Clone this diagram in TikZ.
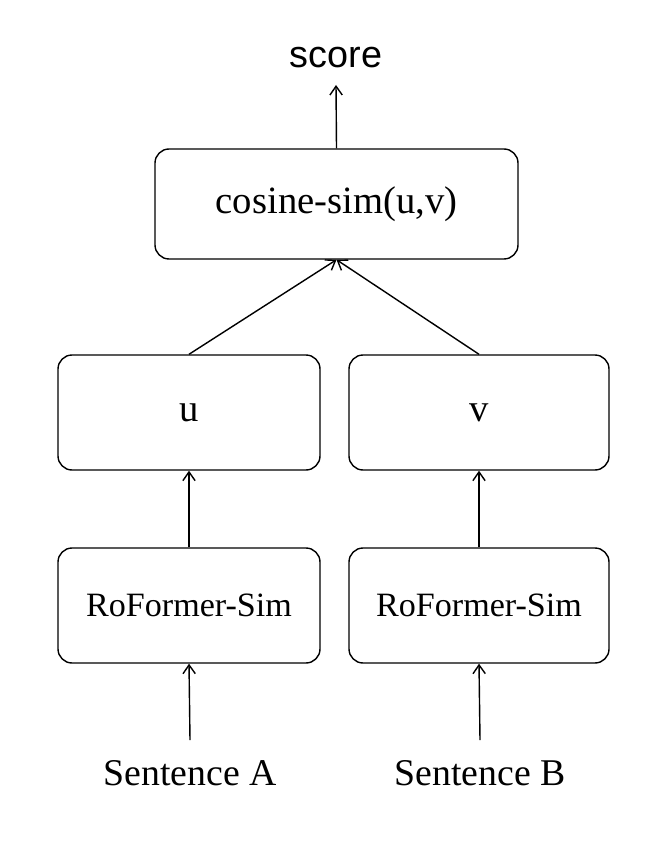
\documentclass[tikz,border=0pt]{standalone}
\usepackage{fontspec}
\setmainfont{Liberation Serif}
\newfontfamily\sansf{Liberation Sans}
\usetikzlibrary{arrows.meta}
\begin{document}
\begin{tikzpicture}[x=0.02cm,y=-0.02cm,
  box/.style={draw,rounded corners=8pt,line width=0.8pt,anchor=center,inner sep=0pt},
  arr/.style={-{Straight Barb[length=5pt,width=7pt]},line width=0.8pt}]
\useasboundingbox (0,0) rectangle (670,844);
\node[box,minimum width=363*0.02cm,minimum height=110*0.02cm,font=\fontsize{22}{26}\selectfont] (cos) at (336.5,204) {cosine-sim(u,v)};
\node[box,minimum width=262*0.02cm,minimum height=115*0.02cm,font=\fontsize{22}{26}\selectfont] (u) at (189,412.5) {u};
\node[box,minimum width=260*0.02cm,minimum height=115*0.02cm,font=\fontsize{22}{26}\selectfont] (v) at (479,412.5) {v};
\node[box,minimum width=262*0.02cm,minimum height=115*0.02cm,font=\fontsize{19.4}{23}\selectfont] (ra) at (189,605.5) {RoFormer-Sim};
\node[box,minimum width=260*0.02cm,minimum height=115*0.02cm,font=\fontsize{19.4}{23}\selectfont] (rb) at (479,605.5) {RoFormer-Sim};
\node[font=\fontsize{21.5}{25}\selectfont] (sa) at (190,773) {Sentence A};
\node[font=\fontsize{21.5}{25}\selectfont] (sb) at (480,773) {Sentence B};
\node[font=\sansf\fontsize{21.5}{25}\selectfont] (sc) at (336,58) {score};
\draw[arr] (cos.north) -- (336,85);
\draw[arr] (u.north) -- (cos.south);
\draw[arr] (v.north) -- (cos.south);
\draw[arr] (ra.north) -- (u.south);
\draw[arr] (rb.north) -- (v.south);
\draw[arr] (190,740) -- (ra.south);
\draw[arr] (480,740) -- (rb.south);
\end{tikzpicture}
\end{document}
